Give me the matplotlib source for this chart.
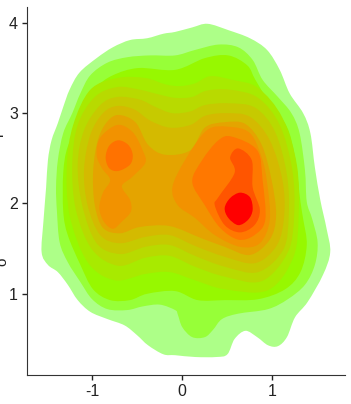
import numpy as np
import matplotlib
matplotlib.use("Agg")
import matplotlib.pyplot as plt
from matplotlib.path import Path
from matplotlib.patches import PathPatch

plt.rcParams['font.family'] = ['Liberation Sans', 'DejaVu Sans']
plt.rcParams['axes.unicode_minus'] = False

# density contour outlines, outermost level first
a_x = [-0.08,-0.21,-0.39,-0.58,-0.77,-0.95,-1.14,-1.25,-1.32,-1.38,-1.45,-1.49,-1.51,-1.54,-1.56,-1.49,-1.38,-1.27,-1.16,-1.02,-0.83,-0.64,-0.50,-0.38,-0.21,-0.08,0.14,0.38,0.50,0.58,0.70,0.83,0.95,1.06,1.16,1.25,1.39,1.56,1.64,1.60,1.53,1.47,1.42,1.34,1.19,1.08,0.94,0.75,0.51,0.28,0.11]
a_y = [3.90,3.88,3.83,3.81,3.73,3.61,3.45,3.26,3.07,2.89,2.70,2.48,2.18,1.80,1.46,1.32,1.24,1.10,0.93,0.80,0.72,0.65,0.54,0.43,0.33,0.32,0.30,0.30,0.33,0.50,0.59,0.52,0.43,0.42,0.52,0.74,0.91,1.21,1.46,1.72,2.04,2.40,2.78,3.00,3.22,3.48,3.70,3.83,3.92,3.99,3.95]
b_x = [-0.08,-0.36,-0.61,-0.83,-1.02,-1.13,-1.22,-1.32,-1.38,-1.40,-1.39,-1.36,-1.27,-1.13,-1.00,-0.83,-0.61,-0.44,-0.25,-0.08,-0.05,0.00,0.11,0.25,0.34,0.44,0.62,0.95,1.17,1.36,1.47,1.50,1.44,1.38,1.36,1.30,1.21,1.06,0.89,0.78,0.62,0.40,0.14]
b_y = [3.64,3.64,3.62,3.56,3.42,3.22,3.00,2.78,2.48,2.18,1.91,1.57,1.35,1.13,0.94,0.83,0.82,0.86,0.88,0.82,0.77,0.63,0.52,0.52,0.60,0.72,0.78,0.83,0.94,1.10,1.32,1.57,1.83,2.02,2.37,2.78,3.00,3.18,3.37,3.59,3.73,3.76,3.70]
c_x = [-0.08,-0.49,-0.77,-0.95,-1.05,-1.13,-1.27,-1.32,-1.32,-1.27,-1.13,-0.99,-0.80,-0.58,-0.39,-0.08,0.17,0.47,0.84,1.14,1.31,1.38,1.34,1.31,1.25,1.16,0.97,0.81,0.72,0.51,0.25]
c_y = [3.48,3.50,3.42,3.29,3.11,2.89,2.63,2.34,1.91,1.65,1.32,1.05,0.93,0.93,1.00,1.03,0.93,0.93,0.94,1.05,1.24,1.54,1.83,2.02,2.51,2.85,3.11,3.37,3.53,3.64,3.61]
d_x = [-0.72,-0.41,-0.19,-0.03,0.14,0.31,0.55,0.84,1.11,1.27,1.29,1.23,0.95,0.47,0.14,-0.14,-0.41,-0.75,-1.05,-1.25,-1.28,-1.21,-1.02]
d_y = [3.39,3.39,3.32,3.30,3.33,3.41,3.37,3.28,2.95,2.43,1.87,1.40,1.04,1.05,1.15,1.24,1.22,1.15,1.35,1.87,2.43,2.87,3.26]
e_x = [-0.72,-0.47,-0.27,-0.08,0.11,0.27,0.53,0.84,1.08,1.22,1.24,1.17,0.88,0.47,0.14,-0.14,-0.41,-0.71,-1.00,-1.18,-1.22,-1.16,-0.97]
e_y = [3.29,3.26,3.21,3.17,3.18,3.25,3.26,3.17,2.87,2.37,1.87,1.46,1.14,1.19,1.30,1.42,1.40,1.31,1.49,1.93,2.43,2.87,3.18]
f_x = [-0.72,-0.47,-0.30,-0.11,0.09,0.25,0.51,0.81,1.03,1.16,1.18,1.12,0.84,0.47,0.14,-0.14,-0.41,-0.69,-0.95,-1.11,-1.16,-1.09,-0.91]
f_y = [3.18,3.15,3.07,3.00,3.02,3.09,3.11,3.06,2.79,2.32,1.87,1.49,1.24,1.30,1.42,1.54,1.52,1.44,1.56,1.98,2.43,2.81,3.09]
g_x = [-0.72,-0.53,-0.36,-0.14,0.09,0.25,0.47,0.75,0.97,1.11,1.13,1.05,0.81,0.47,0.14,-0.14,-0.41,-0.69,-0.91,-1.05,-1.09,-1.02,-0.88]
g_y = [3.08,3.04,2.92,2.84,2.87,2.97,3.00,2.96,2.70,2.26,1.87,1.54,1.34,1.41,1.53,1.65,1.63,1.56,1.65,1.98,2.37,2.76,3.00]
h_x = [-0.72,-0.52,-0.38,-0.19,0.09,0.25,0.47,0.70,0.88,0.99,1.04,0.97,0.75,0.47,0.20,-0.14,-0.47,-0.69,-0.88,-0.97,-0.99,-0.95,-0.86]
h_y = [2.98,2.90,2.65,2.54,2.59,2.84,2.90,2.88,2.65,2.26,1.87,1.60,1.43,1.52,1.62,1.75,1.74,1.67,1.73,1.98,2.32,2.65,2.87]
i_left_x = [-0.72,-0.55,-0.44,-0.41,-0.56,-0.67,-0.58,-0.57,-0.67,-0.77,-0.87,-0.92,-0.88,-0.80,-0.89,-0.95,-0.91]
i_left_y = [2.87,2.79,2.59,2.45,2.29,2.19,2.04,1.91,1.80,1.72,1.80,1.95,2.12,2.26,2.39,2.54,2.73]
i_right_x = [-0.11,0.03,0.27,0.51,0.75,0.88,0.94,0.97,0.86,0.64,0.36,0.14,-0.05]
i_right_y = [2.18,2.48,2.81,2.85,2.78,2.51,2.23,1.82,1.56,1.52,1.65,1.84,1.98]
j_left_x = [-0.71,-0.60,-0.55,-0.58,-0.71,-0.81,-0.85,-0.81]
j_left_y = [2.70,2.65,2.54,2.43,2.36,2.39,2.51,2.64]
j_right_x = [0.40,0.55,0.83,0.89,0.92,0.80,0.62,0.42,0.25,0.11,0.22]
j_right_y = [2.70,2.74,2.59,2.26,1.82,1.65,1.60,1.73,1.98,2.24,2.48]
k_x = [0.62,0.77,0.78,0.86,0.80,0.64,0.47,0.36,0.40,0.58,0.53]
k_y = [2.61,2.48,2.18,1.93,1.76,1.68,1.76,1.98,2.07,2.34,2.51]
l_x = [0.64,0.75,0.78,0.73,0.62,0.51,0.47,0.53]
l_y = [2.12,2.07,1.93,1.82,1.76,1.84,1.95,2.06]

x_ticks = [-1, 0, 1]
y_ticks = [1, 2, 3, 4]


def closed_curve(xs, ys):
    # Catmull-Rom through the points, written as bezier segments
    pts = np.column_stack([xs, ys])
    n = len(pts)
    verts = [pts[0]]
    codes = [Path.MOVETO]
    for i in range(n):
        p0, p1, p2, p3 = pts[i-1], pts[i], pts[(i+1) % n], pts[(i+2) % n]
        verts += [p1 + (p2-p0)/6, p2 - (p3-p1)/6, p2]
        codes += [Path.CURVE4]*3
    return Path(verts, codes)


levels = [
    (a_x, a_y, '#ADFF88'),
    (b_x, b_y, '#97FF38'),
    (c_x, c_y, '#97F800'),
    (d_x, d_y, '#A8EA00'),
    (e_x, e_y, '#B8DA00'),
    (f_x, f_y, '#C6CA00'),
    (g_x, g_y, '#D4BA00'),
    (h_x, h_y, '#E4A400'),
    (i_left_x, i_left_y, '#F29200'),
    (i_right_x, i_right_y, '#F29200'),
    (j_left_x, j_left_y, '#FF7200'),
    (j_right_x, j_right_y, '#FF7800'),
    (k_x, k_y, '#FF5500'),
    (l_x, l_y, '#FF0000'),
]

fig = plt.figure(figsize=(3.51, 4.04), dpi=100)
ax = fig.add_axes([27/351, 29.3/404, 318/351, 367.7/404])

for xs, ys, colour in levels:
    ax.add_patch(PathPatch(closed_curve(xs, ys), facecolor=colour, edgecolor='none'))

ax.set_xlim(-1.722, 1.804)
ax.set_ylim(0.104, 4.176)
ax.set_xticks(x_ticks)
ax.set_yticks(y_ticks)
ax.tick_params(labelsize=11.5, length=3.5, width=1, color='#222222', labelcolor='#222222', pad=3)
ax.spines['top'].set_visible(False)
ax.spines['right'].set_visible(False)
ax.spines['left'].set_color('#333333')
ax.spines['bottom'].set_color('#333333')

# y label is cut off by the left edge in the original, only slivers show
fig.text(-5/351, 1-262/404, 'o', rotation=90, fontsize=11, color='#222222', va='center', ha='left')
fig.text(-8.5/351, 1-134/404, 'l', rotation=90, fontsize=11, color='#222222', va='center', ha='left')

fig.savefig('out.png', dpi=100)
